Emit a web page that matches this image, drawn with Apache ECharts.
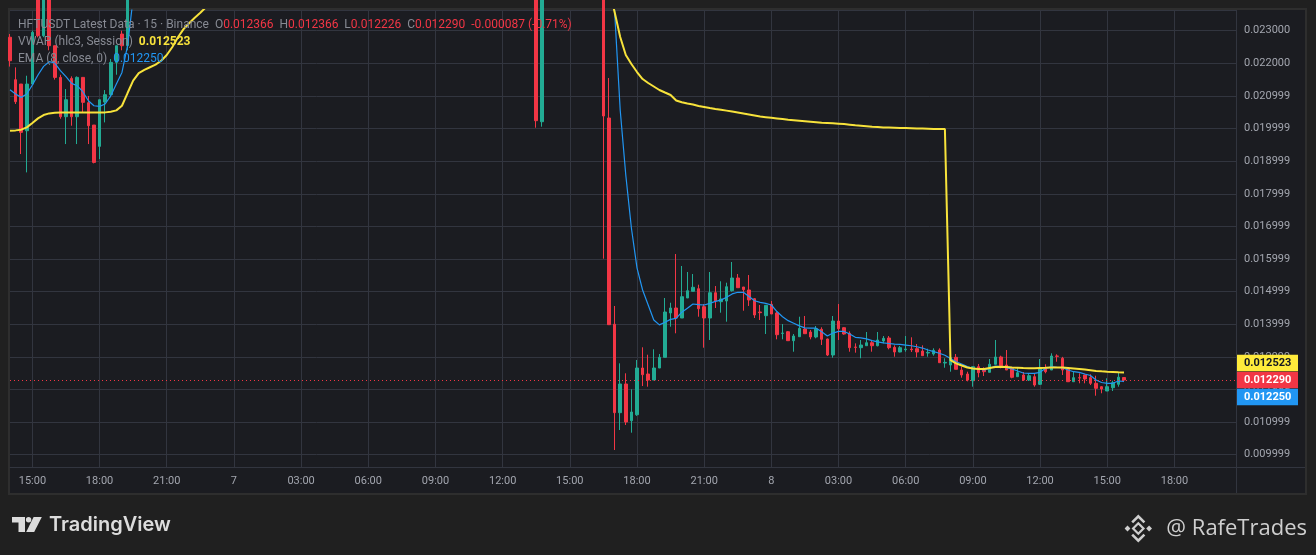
<!DOCTYPE html>
<html><head><meta charset="utf-8">
<script src="https://cdn.jsdelivr.net/npm/echarts@6/dist/echarts.min.js"></script>
<style>html,body{margin:0;padding:0;background:#202020;}#c{width:1316px;height:555px;}</style>
</head><body><div id="c"></div>
<script>
// ---- slots: 15-minute bars, slot 0 = 15:00 on the 6th ----
const slotMin = -4, slotMax = 215;
const xTickLabels = ['15:00','18:00','21:00','7','03:00','06:00','09:00','12:00','15:00','18:00','21:00','8','03:00','06:00','09:00','12:00','15:00','18:00'];
const priceTickLabels = ['0.009999','0.010999','0.011999','0.012999','0.013999','0.014999','0.015999','0.016999','0.017999','0.018999','0.019999','0.020999','0.022000','0.023000'];

// candles [open, close, low, high]
const firstStart = -4;
const firstOHLC = [
 [0.022800,0.022080,0.021900,0.022900],
 [0.021498,0.020823,0.020752,0.021876],
 [0.021365,0.019883,0.019218,0.021365],
 [0.019934,0.021365,0.018656,0.021620],
 [0.021365,0.022949,0.021365,0.023000],
 [0.024000,0.022847,0.022796,0.024200],
 [0.022847,0.024000,0.022800,0.024200],
 [0.024000,0.022540,0.022400,0.024200],
 [0.022540,0.021569,0.021500,0.022540],
 [0.021569,0.020363,0.020300,0.021650],
 [0.020363,0.020884,0.019525,0.021211],
 [0.021538,0.020363,0.020087,0.021600],
 [0.020363,0.021569,0.019525,0.021600],
 [0.021569,0.020803,0.020500,0.021569],
 [0.020792,0.020087,0.019525,0.021000],
 [0.020108,0.018963,0.018932,0.020108],
 [0.019454,0.020884,0.019065,0.020884],
 [0.020813,0.021038,0.020189,0.021181],
 [0.021038,0.022029,0.020957,0.022131],
 [0.022029,0.022540,0.021651,0.022540],
 [0.022898,0.022540,0.022400,0.023000],
 [0.022540,0.024500,0.022400,0.024600]
];
const midStart = 90;
const midOHLC = [
 [0.024500,0.020241,0.020026,0.024600],
 [0.020210,0.024500,0.020057,0.024600]
];
const mainStart = 102;
const mainOHLC = [
 [0.024500,0.020385,0.016010,0.024600],
 [0.020323,0.013986,0.013986,0.021550],
 [0.014000,0.011288,0.010144,0.014559],
 [0.011288,0.012168,0.010757,0.012802],
 [0.012168,0.011003,0.010911,0.012496],
 [0.011042,0.011309,0.010675,0.012005],
 [0.011226,0.012658,0.011190,0.012904],
 [0.012658,0.012453,0.012106,0.013293],
 [0.012474,0.012290,0.012085,0.013066],
 [0.012290,0.012658,0.012290,0.013232],
 [0.012658,0.012986,0.012658,0.013088],
 [0.012986,0.014375,0.012986,0.014805],
 [0.014345,0.014498,0.013925,0.014660],
 [0.014498,0.014191,0.013722,0.016154],
 [0.014191,0.014844,0.014191,0.015786],
 [0.014805,0.015028,0.014805,0.015602],
 [0.015010,0.015133,0.015010,0.015540],
 [0.015090,0.014476,0.014231,0.015212],
 [0.014538,0.014191,0.013281,0.014620],
 [0.014191,0.014967,0.013517,0.015602],
 [0.014967,0.014713,0.014498,0.015172],
 [0.014692,0.014774,0.014354,0.015317],
 [0.014713,0.015151,0.014078,0.015274],
 [0.015029,0.015418,0.015000,0.015908],
 [0.015418,0.015120,0.015120,0.015540],
 [0.015142,0.015060,0.014415,0.015142],
 [0.015050,0.014744,0.014560,0.015509],
 [0.014784,0.014283,0.014191,0.014800],
 [0.014375,0.014354,0.014130,0.014590],
 [0.014262,0.014581,0.013701,0.014581],
 [0.014611,0.014314,0.014314,0.014712],
 [0.014345,0.013679,0.013538,0.014385],
 [0.013720,0.013730,0.013538,0.014007],
 [0.013771,0.013496,0.013496,0.013790],
 [0.013496,0.013639,0.013158,0.013701],
 [0.013618,0.013875,0.013618,0.014231],
 [0.013854,0.013710,0.013710,0.014253],
 [0.013762,0.013609,0.013538,0.013823],
 [0.013609,0.013863,0.013569,0.013946],
 [0.013844,0.013538,0.013364,0.013906],
 [0.013548,0.013057,0.013026,0.013560],
 [0.013057,0.014099,0.012974,0.014253],
 [0.014099,0.013863,0.013517,0.014620],
 [0.013894,0.013701,0.013680,0.013910],
 [0.013722,0.013281,0.013158,0.013782],
 [0.013301,0.013291,0.013128,0.013414],
 [0.013281,0.013363,0.012956,0.013517],
 [0.013342,0.013434,0.013342,0.013762],
 [0.013434,0.013342,0.013158,0.013517],
 [0.013342,0.013517,0.013322,0.013762],
 [0.013486,0.013568,0.013414,0.013639],
 [0.013578,0.013281,0.013230,0.013639],
 [0.013291,0.013149,0.013005,0.013353],
 [0.013149,0.013281,0.013140,0.013332],
 [0.013220,0.013240,0.013158,0.013639],
 [0.013240,0.013220,0.013149,0.013600],
 [0.013250,0.013149,0.012986,0.013394],
 [0.013179,0.013036,0.013036,0.013353],
 [0.013118,0.013138,0.013005,0.013250],
 [0.013087,0.013199,0.013036,0.013262],
 [0.013210,0.012821,0.012821,0.013262],
 [0.012811,0.012831,0.012667,0.012956],
 [0.012750,0.012974,0.012545,0.013026],
 [0.012986,0.012618,0.012618,0.013088],
 [0.012597,0.012444,0.012361,0.012698],
 [0.012474,0.012290,0.012249,0.012545],
 [0.012269,0.012698,0.012085,0.012698],
 [0.012698,0.012514,0.012373,0.012781],
 [0.012618,0.012545,0.012413,0.012680],
 [0.012526,0.012772,0.012526,0.012934],
 [0.012772,0.012996,0.012772,0.013517],
 [0.012996,0.012729,0.012649,0.013036],
 [0.012750,0.012597,0.012597,0.013210],
 [0.012649,0.012373,0.012343,0.012649],
 [0.012392,0.012514,0.012392,0.012680],
 [0.012444,0.012290,0.012260,0.012536],
 [0.012290,0.012422,0.012260,0.012505],
 [0.012392,0.012137,0.012085,0.012496],
 [0.012159,0.012649,0.012137,0.012934],
 [0.012649,0.012545,0.012496,0.012772],
 [0.012597,0.013026,0.012597,0.013109],
 [0.013026,0.013016,0.012851,0.013078],
 [0.012956,0.012597,0.012444,0.013000],
 [0.012628,0.012238,0.012238,0.012689],
 [0.012238,0.012361,0.012238,0.012545],
 [0.012361,0.012351,0.012189,0.012496],
 [0.012444,0.012321,0.012189,0.012450],
 [0.012361,0.012189,0.012137,0.012465],
 [0.012189,0.012036,0.011809,0.012422],
 [0.012085,0.012015,0.011883,0.012100],
 [0.011953,0.012085,0.011953,0.012343],
 [0.012054,0.012208,0.011953,0.012269],
 [0.012159,0.012377,0.012085,0.012526],
 [0.012366,0.012290,0.012226,0.012366]
];

// VWAP (hlc3, Session)
const vwapAStart = -4;
const vwapA = [0.019934,0.019944,0.019965,0.020036,0.020169,0.020312,0.020414,0.020465,0.020486,0.020496,0.020496,0.020496,0.020496,0.020496,0.020496,0.020496,0.020496,0.020496,0.020516,0.020557,0.020700,0.021089,0.021467,0.021700,0.021800,0.021880,0.021960,0.022080,0.022255,0.022500,0.022800,0.023050,0.023230,0.023400,0.023550,0.023720,0.023900];
const vwapBStart = 103;
const vwapB = [0.024300,0.023572,0.022806,0.022254,0.021978,0.021733,0.021518,0.021396,0.021289,0.021182,0.021105,0.021029,0.020860,0.020805,0.020768,0.020738,0.020691,0.020661,0.020630,0.020600,0.020575,0.020550,0.020520,0.020490,0.020460,0.020430,0.020400,0.020370,0.020350,0.020330,0.020310,0.020290,0.020270,0.020255,0.020240,0.020225,0.020210,0.020195,0.020180,0.020170,0.020160,0.020150,0.020140,0.020120,0.020100,0.020085,0.020070,0.020055,0.020045,0.020035,0.020030,0.020025,0.020020,0.020015,0.020010,0.020005,0.020000,0.019995,0.019990,0.019988,0.019986,
 0.012900,0.012800,0.012735,0.012675,0.012640,0.012625,0.012630,0.012660,0.012690,0.012695,0.012690,0.012675,0.012665,0.012655,0.012650,0.012650,0.012660,0.012665,0.012672,0.012675,0.012672,0.012660,0.012645,0.012630,0.012610,0.012590,0.012570,0.012556,0.012545,0.012538,0.012530,0.012523];

// EMA (8, close)
const emaAStart = -4;
const emaA = [0.021191,0.021058,0.020956,0.021058,0.021334,0.021641,0.021906,0.022050,0.022009,0.021774,0.021590,0.021385,0.021314,0.021130,0.020854,0.020700,0.020680,0.020752,0.021007,0.021365,0.021722,0.022540,0.024000];
const emaBStart = 103;
const emaB = [0.026200,0.023600,0.020570,0.018570,0.016950,0.015730,0.015050,0.014590,0.014130,0.013980,0.014060,0.014150,0.014180,0.014370,0.014490,0.014620,0.014600,0.014590,0.014640,0.014700,0.014740,0.014830,0.014930,0.014980,0.014980,0.014850,0.014720,0.014670,0.014640,0.014590,0.014390,0.014230,0.014110,0.014030,0.013950,0.013890,0.013880,0.013880,0.013770,0.013640,0.013730,0.013780,0.013780,0.013700,0.013600,0.013580,0.013550,0.013500,0.013460,0.013430,0.013410,0.013390,0.013380,0.013360,0.013340,0.013310,0.013270,0.013210,0.013160,0.013110,0.013050,0.012950,0.012850,0.012780,0.012700,0.012650,0.012630,0.012600,0.012649,0.012720,0.012698,0.012668,0.012628,0.012566,0.012505,0.012496,0.012496,0.012526,0.012649,0.012698,0.012680,0.012668,0.012597,0.012545,0.012526,0.012474,0.012428,0.012290,0.012214,0.012189,0.012189,0.012260,0.012250];

const lastOpen = 0.012366, lastHigh = 0.012366, lastLow = 0.012226, lastClose = 0.012290;
const lastChange = '-0.000087', lastChangePct = '-0.71%';
const lastVwap = 0.012523, lastEma = 0.012250;

// ---- build series data on the slot categories ----
const categories = [];
for (let s = slotMin; s <= slotMax; s++) categories.push(s);
const N = categories.length;
function placeAt(target, arr, start) { arr.forEach((v, i) => { target[start + i - slotMin] = v; }); }
const candleData = new Array(N).fill(null).map(() => ['-','-','-','-']);
placeAt(candleData, firstOHLC, firstStart);
placeAt(candleData, midOHLC, midStart);
placeAt(candleData, mainOHLC, mainStart);
const vwapData = new Array(N).fill('-');
placeAt(vwapData, vwapA, vwapAStart);
placeAt(vwapData, vwapB, vwapBStart);
const emaData = new Array(N).fill('-');
placeAt(emaData, emaA, emaAStart);
placeAt(emaData, emaB, emaBStart);

const UP = '#22ab94', DOWN = '#f23645', VWAPC = '#f7e23b', EMAC = '#2196f3';
const GRID = '#32353f', AXISTXT = '#a3a6af', LEGTXT = '#878a93';
const FONT = 'Roboto, "Noto Sans", sans-serif';

const isTick = (idx) => { const s = categories[idx]; return s >= 0 && s % 12 === 0; };

const chart = echarts.init(document.getElementById('c'));
chart.setOption({
  animation: false,
  backgroundColor: '#202020',
  grid: { left: 10, right: 80, top: 10, bottom: 88 },
  xAxis: {
    type: 'category', data: categories, boundaryGap: false,
    axisLine: { show: true, lineStyle: { color: GRID } },
    axisTick: { show: false },
    axisLabel: {
      interval: (idx) => isTick(idx), margin: 9, color: AXISTXT, fontSize: 11, fontFamily: FONT,
      formatter: (v) => { const s = Number(v); return (s >= 0 && s % 12 === 0) ? (xTickLabels[s / 12] || '') : ''; }
    },
    splitLine: { show: true, interval: (idx) => isTick(idx), lineStyle: { color: GRID, width: 1 } }
  },
  yAxis: {
    type: 'value', position: 'right', min: 0.009623, max: 0.023635, splitNumber: 14, scale: true,
    axisLine: { show: false }, axisTick: { show: false },
    axisLabel: {
      margin: 8, color: AXISTXT, fontSize: 11, fontFamily: FONT, showMinLabel: false, showMaxLabel: false,
      formatter: (v) => { const k = Math.round(v * 1000); if (Math.abs(v * 1000 - k) > 1e-6) return ''; return priceTickLabels[k - 10] || ''; }
    },
    splitLine: { show: true, lineStyle: { color: GRID, width: 1 } }
  },
  series: [
    {
      type: 'candlestick', data: candleData, barWidth: 3, clip: true,
      itemStyle: { color: UP, color0: DOWN, borderColor: UP, borderColor0: DOWN, borderWidth: 1 },
      z: 2
    },
    { type: 'line', data: vwapData, showSymbol: false, symbol: 'none', connectNulls: false, clip: true,
      lineStyle: { color: VWAPC, width: 2 }, z: 4 },
    { type: 'line', data: emaData, showSymbol: false, symbol: 'none', connectNulls: false, clip: true,
      lineStyle: { color: EMAC, width: 1.2 }, z: 3,
      markLine: {
        silent: true, precision: 6, symbol: ['none', 'none'], label: { show: false },
        lineStyle: { color: DOWN, type: [1, 3], width: 1 },
        data: [{ yAxis: lastClose }]
      }
    }
  ],
  graphic: [
    { id: 'panel', type: 'rect', z: -10, shape: { x: 9, y: 9, width: 1297, height: 485 },
      style: { fill: '#1b1c21', stroke: '#2e2e2e', lineWidth: 2 } },
    { id: 'sepV', type: 'line', z: 5, shape: { x1: 1236.5, y1: 10, x2: 1236.5, y2: 493 }, style: { stroke: GRID, lineWidth: 1 } },
    { id: 'sepH', type: 'line', z: 5, shape: { x1: 10, y1: 467.5, x2: 1305, y2: 467.5 }, style: { stroke: GRID, lineWidth: 1 } },
    { id: 'leg1', type: 'text', z: 20, x: 18, y: 25, style: {
      text: '{g|HFTUSDT Latest Data · 15 · Binance}  {g|O}{r|' + lastOpen.toFixed(6) + '}  {g|H}{r|' + lastHigh.toFixed(6) + '}  {g|L}{r|' + lastLow.toFixed(6) + '}  {g|C}{r|' + lastClose.toFixed(6) + '}  {r|' + lastChange + ' (' + lastChangePct + ')}',
      verticalAlign: 'middle', font: '12px ' + FONT, fill: LEGTXT,
      rich: { g: { fill: LEGTXT, font: '12px ' + FONT }, r: { fill: DOWN, font: '12px ' + FONT } } } },
    { id: 'leg2', type: 'text', z: 20, x: 18, y: 42, style: {
      text: '{g|VWAP (hlc3, Session)}  {y|' + lastVwap.toFixed(6) + '}',
      verticalAlign: 'middle', font: '12px ' + FONT, fill: LEGTXT,
      rich: { g: { fill: LEGTXT, font: '12px ' + FONT }, y: { fill: VWAPC, font: 'bold 12px ' + FONT } } } },
    { id: 'leg3', type: 'text', z: 20, x: 18, y: 59, style: {
      text: '{g|EMA (8, close, 0)}  {b|' + lastEma.toFixed(6) + '}',
      verticalAlign: 'middle', font: '12px ' + FONT, fill: LEGTXT,
      rich: { g: { fill: LEGTXT, font: '12px ' + FONT }, b: { fill: EMAC, font: '12px ' + FONT } } } },
    // TradingView logo
    { id: 'tv1', type: 'polygon', shape: { points: [[12,517],[25,517],[25,532],[18.5,532],[18.5,522.5],[12,522.5]] }, style: { fill: '#dcdcdc' } },
    { id: 'tv2', type: 'circle', shape: { cx: 28.6, cy: 519.8, r: 2.7 }, style: { fill: '#dcdcdc' } },
    { id: 'tv3', type: 'polygon', shape: { points: [[33.6,517],[41.8,517],[34.2,532],[26.2,532]] }, style: { fill: '#dcdcdc' } },
    { id: 'tvt', type: 'text', x: 49, y: 525, style: { text: 'TradingView', font: '600 20px Inter, sans-serif', fill: '#dcdcdc', verticalAlign: 'middle' } },
    // Binance-like mark + handle
    { id: 'bn1', type: 'polygon', shape: { points: [[1127.5,525.6],[1130.4,528.5],[1127.5,531.4],[1124.6,528.5]] }, style: { fill: '#cfcfcf' } },
    { id: 'bn2', type: 'polygon', shape: { points: [[1149.1,525.6],[1152,528.5],[1149.1,531.4],[1146.2,528.5]] }, style: { fill: '#cfcfcf' } },
    { id: 'bn3', type: 'polygon', shape: { points: [[1138.3,523.3],[1143.5,528.5],[1138.3,533.7],[1133.1,528.5]] }, style: { fill: 'none', stroke: '#cfcfcf', lineWidth: 2.2 } },
    { id: 'bn4', type: 'polyline', shape: { points: [[1132.2,522.4],[1138.3,516.3],[1144.4,522.4]] }, style: { stroke: '#cfcfcf', lineWidth: 2.6, fill: 'none' } },
    { id: 'bn5', type: 'polyline', shape: { points: [[1132.2,534.6],[1138.3,540.7],[1144.4,534.6]] }, style: { stroke: '#cfcfcf', lineWidth: 2.6, fill: 'none' } },
    { id: 'rt', type: 'text', x: 1307, y: 529, style: { text: '@ RafeTrades', font: '22px "Open Sans", sans-serif', fill: '#cfcfcf', align: 'right', verticalAlign: 'middle' } }
  ]
});

// price tags on the right axis, placed from the axis scale
const yClose = chart.convertToPixel({ yAxisIndex: 0 }, lastClose);
const tagH = 16.5, tagX = 1237, tagW = 61;
function tag(id, yc, bg, fg, val) {
  return [
    { id: id + 'r', type: 'rect', z: 30, shape: { x: tagX, y: yc - tagH / 2, width: tagW, height: tagH }, style: { fill: bg } },
    { id: id + 't', type: 'text', z: 31, x: 1244, y: yc + 0.5, style: { text: val.toFixed(6), font: 'bold 11px ' + FONT, fill: fg, verticalAlign: 'middle' } }
  ];
}
chart.setOption({ graphic: [].concat(
  tag('tagR', yClose, DOWN, '#ffffff', lastClose),
  tag('tagY', yClose - tagH - 0.5, '#ffeb3b', '#131722', lastVwap),
  tag('tagB', yClose + tagH + 0.5, EMAC, '#ffffff', lastEma)
) });
</script>
</body></html>
